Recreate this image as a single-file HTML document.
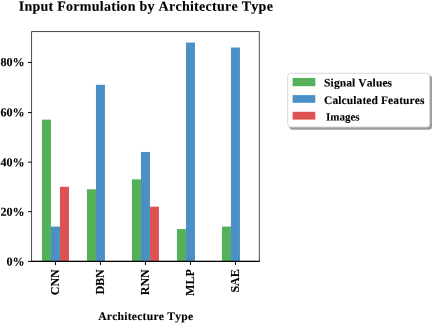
<!DOCTYPE html>
<html><head><meta charset="utf-8"><title>Input Formulation by Architecture Type</title>
<style>
html,body{margin:0;padding:0;background:#fff;}
body{width:435px;height:325px;overflow:hidden;}
svg{display:block;}
text{font-family:"Liberation Serif",serif;font-weight:bold;fill:#000;font-kerning:none;font-variant-ligatures:none;stroke:#000;stroke-width:0.12px;}
.t{font-size:14.0px;letter-spacing:0.27px;stroke-width:0.12px;}
.l{font-size:11.6px;letter-spacing:0.24px;}
.k{font-size:12.1px;letter-spacing:-0.1px;}
.y{font-size:12.1px;}
.g{font-size:11.5px;}
</style></head><body>
<svg width="435" height="325" viewBox="0 0 435 325">
<rect width="435" height="325" fill="#fff"/>
<text class="t" x="18.7" y="10.65" transform="rotate(0.03 18.7 10.65)">Input Formulation by Architecture Type</text>
<rect x="41.95" y="119.64" width="9.00" height="141.76" fill="#55b05a"/>
<rect x="50.95" y="226.58" width="9.00" height="34.82" fill="#4a90c4"/>
<rect x="59.95" y="186.79" width="9.00" height="74.61" fill="#de5254"/>
<rect x="86.95" y="189.28" width="9.00" height="72.12" fill="#55b05a"/>
<rect x="95.95" y="84.82" width="9.00" height="176.58" fill="#4a90c4"/>
<rect x="131.95" y="179.33" width="9.00" height="82.07" fill="#55b05a"/>
<rect x="140.95" y="151.97" width="9.00" height="109.43" fill="#4a90c4"/>
<rect x="149.95" y="206.69" width="9.00" height="54.71" fill="#de5254"/>
<rect x="176.95" y="229.07" width="9.00" height="32.33" fill="#55b05a"/>
<rect x="185.95" y="42.54" width="9.00" height="218.86" fill="#4a90c4"/>
<rect x="221.95" y="226.58" width="9.00" height="34.82" fill="#55b05a"/>
<rect x="230.95" y="47.52" width="9.00" height="213.88" fill="#4a90c4"/>
<rect x="31.6" y="31.6" width="227.70" height="229.80" fill="none" stroke="#383838" stroke-width="0.9"/>
<line x1="31.15" y1="261.45" x2="259.75" y2="261.45" stroke="#000" stroke-width="1.3"/>
<line x1="28.00" y1="261.40" x2="31.6" y2="261.40" stroke="#000" stroke-width="1"/>
<text class="y" x="24.7" y="265.60" text-anchor="end" transform="rotate(0.03 24.7 265.60)">0%</text>
<line x1="28.00" y1="211.66" x2="31.6" y2="211.66" stroke="#000" stroke-width="1"/>
<text class="y" x="24.7" y="215.86" text-anchor="end" transform="rotate(0.03 24.7 215.86)">20%</text>
<line x1="28.00" y1="162.17" x2="31.6" y2="162.17" stroke="#000" stroke-width="1"/>
<text class="y" x="24.7" y="166.22" text-anchor="end" transform="rotate(0.03 24.7 166.22)">40%</text>
<line x1="28.00" y1="112.58" x2="31.6" y2="112.58" stroke="#000" stroke-width="1"/>
<text class="y" x="24.7" y="116.33" text-anchor="end" transform="rotate(0.03 24.7 116.33)">60%</text>
<line x1="28.00" y1="62.44" x2="31.6" y2="62.44" stroke="#000" stroke-width="1"/>
<text class="y" x="24.7" y="66.09" text-anchor="end" transform="rotate(0.03 24.7 66.09)">80%</text>
<line x1="55.45" y1="261.4" x2="55.45" y2="265.00" stroke="#000" stroke-width="1"/>
<text class="k" transform="translate(59.15,269.3) rotate(-89.98)" text-anchor="end">CNN</text>
<line x1="100.45" y1="261.4" x2="100.45" y2="265.00" stroke="#000" stroke-width="1"/>
<text class="k" transform="translate(104.15,269.3) rotate(-89.98)" text-anchor="end">DBN</text>
<line x1="145.45" y1="261.4" x2="145.45" y2="265.00" stroke="#000" stroke-width="1"/>
<text class="k" transform="translate(149.15,269.3) rotate(-89.98)" text-anchor="end">RNN</text>
<line x1="190.45" y1="261.4" x2="190.45" y2="265.00" stroke="#000" stroke-width="1"/>
<text class="k" transform="translate(194.15,269.3) rotate(-89.98)" text-anchor="end">MLP</text>
<line x1="235.45" y1="261.4" x2="235.45" y2="265.00" stroke="#000" stroke-width="1"/>
<text class="k" transform="translate(239.15,269.3) rotate(-89.98)" text-anchor="end">SAE</text>
<text class="l" x="145.8" y="320.1" text-anchor="middle" transform="rotate(0.03 145.8 320.1)">Architecture Type</text>
<rect x="289.4" y="75.2" width="142.6" height="54.6" rx="3.2" fill="#9c9c9c"/>
<rect x="287.7" y="73.3" width="142" height="53.7" rx="3" fill="#fff" stroke="#d4d4d4" stroke-width="0.9"/>
<rect x="292.6" y="78.0" width="22.7" height="8.2" fill="#55b05a"/>
<text x="324.1" y="86.4" transform="rotate(0.03 324.1 86.4)" font-size="11.5" letter-spacing="0.1">Signal Values</text>
<rect x="292.6" y="95.1" width="22.7" height="7.7" fill="#4a90c4"/>
<text x="324.1" y="104.0" transform="rotate(0.03 324.1 104.0)" font-size="11.5" letter-spacing="0.09">Calculated Features</text>
<rect x="292.6" y="111.8" width="22.7" height="7.8" fill="#de5254"/>
<text x="326.0" y="120.5" transform="rotate(0.03 326.0 120.5)" font-size="11.0" letter-spacing="0.0">Images</text>
</svg>
</body></html>
